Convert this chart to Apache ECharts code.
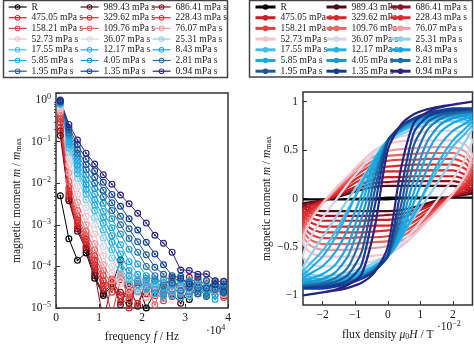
<!DOCTYPE html>
<html><head><meta charset="utf-8">
<script src="https://cdn.jsdelivr.net/npm/echarts@6/dist/echarts.min.js"></script>
<style>html,body{margin:0;padding:0;background:#fff}#c{width:474px;height:356px}</style>
</head><body><div id="c"></div>
<script>
// ---------- categories ----------
const NAMES = ['R','989.43 mPa s','686.41 mPa s','475.05 mPa s','329.62 mPa s','228.43 mPa s','158.21 mPa s','109.76 mPa s','76.07 mPa s','52.73 mPa s','36.07 mPa s','25.31 mPa s','17.55 mPa s','12.17 mPa s','8.43 mPa s','5.85 mPa s','4.05 mPa s','2.81 mPa s','1.95 mPa s','1.35 mPa s','0.94 mPa s'];
const COLORS = ['#000000','#4e0b16','#930f1f','#cc1d25','#d6282a','#da2d30','#e0403f','#e8665e','#f09aa2','#f5c2cd','#d6d6e6','#8ccfef','#45bde9','#22b0e5','#1aa6df','#16abe6','#1d97d2','#1f70ab','#1d5a97','#123e95','#29247e'];

// ---------- left: harmonic spectrum (frequency in Hz) ----------
const FREQ = [1000,3000,5000,7000,9000,11000,13000,15000,17000,19000,21000,23000,25000,27000,29000,31000,33000,35000,37000,39000];
const sR     = [5.0e-3,4.6e-4,1.4e-4,2.1e-4,5.2e-5,2.0e-5,3.4e-5,1.4e-4,1.3e-5,4.0e-5,1.0e-5,2.4e-5,3.3e-5,5.0e-5,2.0e-5,1.6e-5,3.8e-5,2.8e-5,4.4e-5,2.4e-5];
const s98943 = [0.14,3.8e-3,7.0e-4,2.5e-4,6.0e-5,2.2e-5,4.0e-5,1.2e-5,3.3e-5,1.1e-5,4.0e-5,2.6e-5,3.5e-5,2.2e-5,1.3e-5,3.2e-5,4.3e-5,2.6e-5,3.8e-5,2.0e-5];
const s68641 = [0.18,4.2e-3,8.0e-4,2.8e-4,7.0e-5,5.0e-6,3.8e-5,2.4e-5,1.6e-5,3.6e-5,2.2e-5,4.3e-5,3.0e-5,2.0e-5,3.8e-5,5.5e-5,2.4e-5,3.6e-5,2.9e-5,4.4e-5];
const s47505 = [0.22,4.8e-3,9.0e-4,3.2e-4,9.0e-5,2.8e-5,4.5e-5,1.4e-5,3.8e-5,2.5e-5,4.6e-5,2.0e-5,3.5e-5,4.8e-5,2.6e-5,3.0e-5,5.0e-5,2.2e-5,3.4e-5,2.5e-5];
const s32962 = [0.29,5.5e-3,1.1e-3,3.8e-4,1.1e-4,3.5e-5,5.0e-5,2.0e-5,1.0e-5,4.2e-5,2.6e-5,3.8e-5,2.0e-5,3.6e-5,2.4e-5,4.5e-5,3.0e-5,2.3e-5,4.2e-5,2.8e-5];
const s22843 = [0.35,6.5e-3,1.3e-3,4.5e-4,1.4e-4,4.5e-5,7.0e-6,4.8e-5,2.4e-5,1.3e-5,4.0e-5,3.3e-5,2.7e-5,1.9e-5,4.1e-5,3.2e-5,2.6e-5,4.4e-5,3.0e-5,2.2e-5];
const s15821 = [0.42,8.0e-3,1.6e-3,5.5e-4,1.8e-4,6.0e-5,2.4e-5,6.0e-5,1.6e-5,4.5e-5,3.2e-5,2.6e-5,1.5e-5,4.3e-5,3.5e-5,2.4e-5,4.6e-5,2.0e-5,3.3e-5,1.8e-5];
const s10976 = [0.49,1.1e-2,2.2e-3,7.0e-4,2.5e-4,8.0e-5,3.5e-5,5.5e-5,2.0e-5,4.2e-5,3.0e-5,1.2e-5,4.0e-5,3.3e-5,2.2e-5,4.0e-5,2.8e-5,3.7e-5,2.5e-5,3.2e-5];
const s7607  = [0.55,1.8e-2,3.5e-3,1.0e-3,3.5e-4,1.1e-4,4.5e-5,6.5e-5,2.6e-5,4.8e-5,1.8e-5,3.6e-5,5.2e-5,2.4e-5,3.4e-5,4.5e-5,2.3e-5,3.0e-5,2.0e-5,3.6e-5];
const s5273  = [0.62,2.8e-2,5.5e-3,1.6e-3,6.0e-4,1.8e-4,7.0e-5,3.8e-5,5.5e-5,2.3e-5,4.4e-5,3.4e-5,2.2e-5,4.7e-5,2.9e-5,2.0e-5,3.8e-5,2.6e-5,4.3e-5,2.1e-5];
const s3607  = [0.68,4.0e-2,8.5e-3,2.6e-3,1.0e-3,3.0e-4,1.0e-4,4.5e-5,6.0e-5,2.8e-5,3.8e-5,2.1e-5,4.6e-5,3.1e-5,2.5e-5,3.9e-5,2.0e-5,3.5e-5,2.7e-5,4.0e-5];
const s2531  = [0.77,5.6e-2,1.3e-2,4.0e-3,1.5e-3,4.8e-4,1.6e-4,6.5e-5,3.6e-5,5.5e-5,2.6e-5,4.0e-5,3.0e-5,2.0e-5,4.2e-5,2.8e-5,2.2e-5,4.4e-5,3.3e-5,2.4e-5];
const s1755  = [0.80,7.0e-2,1.7e-2,5.5e-3,2.2e-3,7.5e-4,2.5e-4,9.0e-5,4.8e-5,2.5e-5,4.4e-5,3.2e-5,1.7e-5,4.5e-5,2.3e-5,3.6e-5,4.8e-5,2.1e-5,3.0e-5,3.9e-5];
const s1217  = [0.82,8.5e-2,2.1e-2,7.2e-3,3.0e-3,1.1e-3,3.8e-4,1.35e-4,6.0e-5,3.6e-5,5.2e-5,2.2e-5,4.1e-5,2.8e-5,4.6e-5,1.9e-5,3.4e-5,2.5e-5,4.2e-5,2.6e-5];
const s843   = [0.84,0.10,2.7e-2,9.2e-3,4.0e-3,1.5e-3,5.5e-4,2.0e-4,8.0e-5,4.5e-5,3.0e-5,5.0e-5,2.4e-5,3.6e-5,1.8e-5,4.0e-5,2.7e-5,3.3e-5,2.0e-5,3.7e-5];
const s585   = [0.86,0.12,3.4e-2,1.2e-2,5.5e-3,2.1e-3,8.5e-4,3.3e-4,1.3e-4,6.5e-5,4.0e-5,2.8e-5,4.8e-5,2.0e-5,3.5e-5,4.4e-5,2.2e-5,3.2e-5,1.6e-5,2.9e-5];
const s405   = [0.88,0.14,4.2e-2,1.6e-2,7.5e-3,3.3e-3,1.4e-3,6.0e-4,2.6e-4,1.15e-4,6.0e-5,4.5e-5,2.2e-5,4.0e-5,5.0e-5,2.5e-5,3.6e-5,2.0e-5,3.1e-5,2.3e-5];
const s281   = [0.90,0.16,5.2e-2,2.1e-2,1.0e-2,4.7e-3,2.2e-3,1.0e-3,4.7e-4,2.2e-4,1.0e-4,6.0e-5,3.5e-5,5.5e-5,2.6e-5,4.2e-5,3.0e-5,1.9e-5,3.8e-5,2.7e-5];
const s195   = [0.92,0.19,6.5e-2,2.8e-2,1.4e-2,6.8e-3,3.4e-3,1.6e-3,8.0e-4,3.9e-4,1.9e-4,9.5e-5,6.5e-5,4.0e-5,5.8e-5,3.2e-5,2.2e-5,4.6e-5,2.8e-5,3.4e-5];
const s135   = [0.95,0.22,8.5e-2,3.8e-2,2.0e-2,1.05e-2,5.4e-3,2.8e-3,1.4e-3,7.5e-4,3.8e-4,2.0e-4,1.1e-4,6.0e-5,5.2e-5,3.8e-5,5.5e-5,3.0e-5,3.6e-5,2.4e-5];
const s094   = [1.0,0.26,0.11,5.3e-2,2.9e-2,1.6e-2,9.5e-3,5.2e-3,3.2e-3,1.9e-3,1.1e-3,5.6e-4,3.6e-4,2.2e-4,8.2e-5,8.0e-5,6.5e-5,6.6e-5,4.5e-5,4.3e-5];
const SPECTRA = [sR,s98943,s68641,s47505,s32962,s22843,s15821,s10976,s7607,s5273,s3607,s2531,s1755,s1217,s843,s585,s405,s281,s195,s135,s094];

// ---------- right: magnetisation loops (field in 1e-2 T) ----------
// descending-field branch sampled at FIELD; rising branch is its point mirror
const FIELD = [2.6,2.4,2.0,1.6,1.2,0.8,0.4,0,-0.4,-0.8,-1.2,-1.6,-2.0,-2.4,-2.6];
const hR     = [0.01,0.01,0.01,0.01,0.01,0.01,0.01,0.01,0.0,0.0,-0.005,-0.01,-0.01,-0.01,-0.01];
const h98943 = [0.05,0.10,0.13,0.13,0.13,0.13,0.13,0.13,0.12,0.09,0.05,0.01,-0.02,-0.04,-0.05];
const h68641 = [0.08,0.14,0.18,0.18,0.18,0.18,0.18,0.17,0.16,0.12,0.07,0.02,-0.02,-0.06,-0.08];
const h47505 = [0.12,0.19,0.23,0.23,0.23,0.23,0.22,0.22,0.20,0.15,0.09,0.03,-0.03,-0.08,-0.12];
const h32962 = [0.16,0.24,0.29,0.29,0.29,0.29,0.28,0.28,0.26,0.20,0.12,0.04,-0.04,-0.11,-0.16];
const h22843 = [0.21,0.30,0.35,0.35,0.35,0.35,0.34,0.33,0.31,0.24,0.15,0.06,-0.04,-0.13,-0.21];
const h15821 = [0.26,0.36,0.41,0.41,0.41,0.40,0.40,0.39,0.36,0.28,0.18,0.07,-0.04,-0.16,-0.26];
const h10976 = [0.32,0.42,0.47,0.47,0.47,0.46,0.45,0.44,0.40,0.31,0.20,0.08,-0.05,-0.20,-0.32];
const h7607  = [0.38,0.48,0.53,0.53,0.53,0.52,0.51,0.49,0.44,0.35,0.23,0.10,-0.05,-0.24,-0.38];
const h5273  = [0.45,0.55,0.60,0.60,0.60,0.60,0.59,0.57,0.50,0.38,0.24,0.10,-0.05,-0.25,-0.45];
const h3607  = [0.60,0.67,0.70,0.70,0.69,0.67,0.64,0.59,0.48,0.32,0.16,-0.02,-0.20,-0.42,-0.60];
const h2531  = [0.72,0.78,0.80,0.79,0.76,0.72,0.66,0.58,0.40,0.20,0.00,-0.20,-0.40,-0.60,-0.72];
const h1755  = [0.76,0.81,0.83,0.82,0.79,0.75,0.69,0.60,0.42,0.14,-0.10,-0.34,-0.54,-0.68,-0.76];
const h1217  = [0.80,0.84,0.85,0.84,0.81,0.77,0.70,0.60,0.40,0.17,-0.13,-0.40,-0.60,-0.73,-0.80];
const h843   = [0.83,0.86,0.87,0.86,0.83,0.78,0.71,0.60,0.38,0.04,-0.30,-0.55,-0.70,-0.78,-0.83];
const h585   = [0.86,0.88,0.89,0.87,0.84,0.79,0.72,0.60,0.34,-0.06,-0.46,-0.68,-0.78,-0.83,-0.86];
const h405   = [0.88,0.89,0.90,0.88,0.85,0.80,0.72,0.60,0.28,-0.20,-0.58,-0.76,-0.83,-0.86,-0.88];
const h281   = [0.90,0.91,0.91,0.89,0.86,0.81,0.73,0.60,0.20,-0.38,-0.70,-0.82,-0.87,-0.89,-0.90];
const h195   = [0.91,0.92,0.92,0.90,0.87,0.82,0.74,0.60,0.08,-0.55,-0.78,-0.86,-0.89,-0.91,-0.91];
const h135   = [0.93,0.93,0.93,0.91,0.88,0.83,0.75,0.58,-0.08,-0.68,-0.84,-0.89,-0.91,-0.92,-0.93];
const h094   = [1.00,0.99,0.97,0.95,0.92,0.87,0.76,0.50,-0.30,-0.78,-0.89,-0.94,-0.97,-0.99,-1.00];
const LOOPS = [hR,h98943,h68641,h47505,h32962,h22843,h15821,h10976,h7607,h5273,h3607,h2531,h1755,h1217,h843,h585,h405,h281,h195,h135,h094];

// ---------- tick labels ----------
const LOG_MINOR = [2e-5,3e-5,4e-5,5e-5,6e-5,7e-5,8e-5,9e-5,2e-4,3e-4,4e-4,5e-4,6e-4,7e-4,8e-4,9e-4,2e-3,3e-3,4e-3,5e-3,6e-3,7e-3,8e-3,9e-3,2e-2,3e-2,4e-2,5e-2,6e-2,7e-2,8e-2,9e-2,0.2,0.3,0.4,0.5,0.6,0.7,0.8,0.9];
const RX_TICKS = [-2,-1,0,1,2];
const RY_TICKS = [-1,-0.5,0,0.5,1];

const SERIF = 'Liberation Serif';
const TXT = '#1a1a1a';
const MARK = 'path://M10,0A10,10,0,1,1,-10,0A10,10,0,1,1,10,0ZM6.6,0A6.6,6.6,0,1,0,-6.6,0A6.6,6.6,0,1,0,6.6,0ZM2.8,0A2.8,2.8,0,1,1,-2.8,0A2.8,2.8,0,1,1,2.8,0Z';
const minus = s => String(s).replace('-', '\u2212');

const series = [];
NAMES.forEach((n, i) => {
  series.push({
    type: 'line', name: n, xAxisIndex: 0, yAxisIndex: 0,
    data: FREQ.map((f, k) => [f, SPECTRA[i][k]]),
    symbol: MARK, symbolSize: 7, showSymbol: true,
    lineStyle: { width: 1, color: COLORS[i] }, itemStyle: { color: COLORS[i] },
    emphasis: { disabled: true }, animation: false, clip: true
  });
});
NAMES.forEach((n, i) => {
  const up = FIELD.map((x, k) => [x, LOOPS[i][k]]);
  const low = FIELD.map((x, k) => [-x, -LOOPS[i][k]]);
  series.push({
    type: 'line', name: n + '|r', xAxisIndex: 1, yAxisIndex: 2,
    data: up.concat(low), symbol: 'none', smooth: 0.25,
    lineStyle: { width: 2.2, color: COLORS[i] }, itemStyle: { color: COLORS[i] },
    emphasis: { disabled: true }, animation: false, clip: true
  });
});

function legendCol(idx, left, right) {
  const names = NAMES.filter((n, i) => i % 3 === idx).map(n => right ? n + '|r' : n);
  const l = {
    orient: 'vertical', left: left, top: 2, padding: 0, itemGap: 0.7,
    itemWidth: right ? 20 : 18, itemHeight: 7, selectedMode: false,
    data: names, formatter: n => n.replace('|r', ''),
    textStyle: { fontFamily: SERIF, fontSize: 9.5, lineHeight: 10, color: TXT }
  };
  if (right) l.lineStyle = { width: 3 };
  else { l.lineStyle = { width: 1.2 }; l.itemStyle = { borderWidth: 0 }; }
  return l;
}

const axisLabelLog = {
  fontFamily: SERIF, fontSize: 11.5, color: TXT, margin: 5,
  formatter: v => {
    const e = Math.log10(v); const r = Math.round(e);
    if (Math.abs(e - r) > 1e-6) return '';
    return '10{s|' + minus(r) + '}';
  },
  rich: { s: { fontFamily: SERIF, fontSize: 8, verticalAlign: 'top', padding: [0, 0, 6, 0] } }
};
const nameRich = {
  i: { fontFamily: SERIF, fontSize: 11.5, fontStyle: 'italic', color: TXT },
  sub: { fontFamily: SERIF, fontSize: 8, color: TXT, padding: [5, 0, 0, 0] }
};

const option = {
  backgroundColor: '#fff', animation: false,
  grid: [
    { left: 56, top: 93, width: 172, height: 215, show: true, borderColor: '#333', borderWidth: 1.5, backgroundColor: 'transparent' },
    { left: 303, top: 92, width: 169.5, height: 213, show: true, borderColor: '#333', borderWidth: 1.5, backgroundColor: 'transparent' }
  ],
  xAxis: [
    { type: 'value', gridIndex: 0, min: 0, max: 40000, interval: 10000,
      axisLine: { show: false, onZero: false }, splitLine: { show: false },
      axisTick: { inside: true, length: 4, lineStyle: { color: '#333' } },
      axisLabel: { fontFamily: SERIF, fontSize: 11.5, color: TXT, margin: 4, formatter: v => String(v / 10000) },
      name: 'frequency {i|f} / Hz', nameLocation: 'middle', nameGap: 23,
      nameTextStyle: { fontFamily: SERIF, fontSize: 11.5, color: TXT, rich: nameRich } },
    { type: 'value', gridIndex: 1, min: -2.6, max: 2.6,
      axisLine: { show: false, onZero: false }, splitLine: { show: false },
      axisTick: { inside: true, length: 4, customValues: RX_TICKS, lineStyle: { color: '#333' } },
      axisLabel: { fontFamily: SERIF, fontSize: 11.5, color: TXT, margin: 4, customValues: RX_TICKS, formatter: v => minus(v) },
      name: 'flux density {i|μ}{sub|0}{i|H} / T', nameLocation: 'middle', nameGap: 23,
      nameTextStyle: { fontFamily: SERIF, fontSize: 11.5, color: TXT, rich: nameRich } }
  ],
  yAxis: [
    { type: 'log', gridIndex: 0, min: 1e-5, max: 1.48, logBase: 10, splitNumber: 5,
      axisLine: { show: false, onZero: false }, splitLine: { show: false },
      axisTick: { inside: true, length: 4, lineStyle: { color: '#333' } },
      axisLabel: axisLabelLog,
      name: 'magnetic moment {i|m} / {i|m}{sub|max}', nameLocation: 'middle', nameGap: 33,
      nameTextStyle: { fontFamily: SERIF, fontSize: 11.5, color: TXT, rich: nameRich } },
    { type: 'log', gridIndex: 0, min: 1e-5, max: 1.48, logBase: 10,
      axisLine: { show: false }, splitLine: { show: false }, axisLabel: { show: false },
      axisTick: { inside: true, length: 2, customValues: LOG_MINOR, lineStyle: { color: '#333', width: 0.8 } } },
    { type: 'value', gridIndex: 1, min: -1.1, max: 1.1,
      axisLine: { show: false, onZero: false }, splitLine: { show: false },
      axisTick: { inside: true, length: 4, customValues: RY_TICKS, lineStyle: { color: '#333' } },
      axisLabel: { fontFamily: SERIF, fontSize: 11.5, color: TXT, margin: 5, customValues: RY_TICKS, formatter: v => minus(v) },
      name: 'magnetic moment {i|m} / {i|m}{sub|max}', nameLocation: 'middle', nameGap: 28,
      nameTextStyle: { fontFamily: SERIF, fontSize: 11.5, color: TXT, rich: nameRich } }
  ],
  legend: [
    legendCol(0, 8, false), legendCol(1, 80, false), legendCol(2, 152, false),
    legendCol(0, 254, true), legendCol(1, 325, true), legendCol(2, 389, true)
  ],
  graphic: [
    { type: 'rect', shape: { x: 3.5, y: 0.5, width: 224, height: 77 }, style: { fill: 'none', stroke: '#444', lineWidth: 1.5 }, z: 0, silent: true },
    { type: 'rect', shape: { x: 249.5, y: 0.5, width: 223, height: 76.5 }, style: { fill: 'none', stroke: '#444', lineWidth: 1.5 }, z: 0, silent: true },
    { type: 'text', left: 206, top: 324, silent: true,
      style: { text: '·10{s|4}', fontFamily: SERIF, fontSize: 11.5, fill: TXT,
        rich: { s: { fontFamily: SERIF, fontSize: 8, verticalAlign: 'top', padding: [0, 0, 6, 0] } } } },
    { type: 'text', left: 437, top: 320, silent: true,
      style: { text: '·10{s|\u22122}', fontFamily: SERIF, fontSize: 11.5, fill: TXT,
        rich: { s: { fontFamily: SERIF, fontSize: 8, verticalAlign: 'top', padding: [0, 0, 6, 0] } } } }
  ],
  series: series
};
const chart = echarts.init(document.getElementById('c'), null, { renderer: 'canvas' });
chart.setOption(option);
</script></body></html>
